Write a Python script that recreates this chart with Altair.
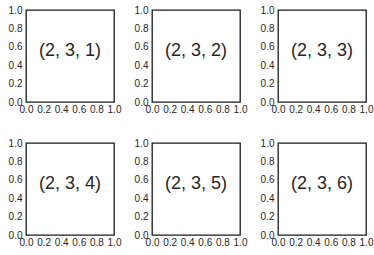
import altair as alt
import pandas as pd

labels = ["(2, 3, 1)", "(2, 3, 2)", "(2, 3, 3)", "(2, 3, 4)", "(2, 3, 5)", "(2, 3, 6)"]
tick_values = [0.0, 0.2, 0.4, 0.6, 0.8, 1.0]
text_x = [0.5]
text_y = [0.5]

FONT = "Liberation Sans"
TXT = "#262626"

def panel(label):
    df = pd.DataFrame({"x": text_x, "y": text_y, "label": [label]})
    ax = dict(values=tick_values, format=".1f", title=None, grid=False, ticks=False,
              domain=False, labelFlush=False, labelFontSize=10, labelFont=FONT,
              labelColor=TXT, labelOverlap=False)
    return alt.Chart(df).mark_text(
        fontSize=18, font=FONT, color=TXT, baseline="alphabetic", align="center"
    ).encode(
        x=alt.X("x:Q", scale=alt.Scale(domain=[0, 1], nice=False),
                axis=alt.Axis(labelPadding=2, **ax)),
        y=alt.Y("y:Q", scale=alt.Scale(domain=[0, 1], nice=False),
                axis=alt.Axis(labelPadding=4, **ax)),
        text="label:N",
    ).properties(width=88, height=92)

row1 = alt.hconcat(*[panel(l) for l in labels[:3]], spacing=11)
row2 = alt.hconcat(*[panel(l) for l in labels[3:]], spacing=11)
chart = alt.vconcat(row1, row2, spacing=22).properties(
    padding={"left": 7, "top": 4, "right": 0, "bottom": 0},
    background="white",
).configure_view(stroke="#1a1a1a", strokeWidth=1.3)

chart.save("out.html", embed_options={"renderer": "svg", "actions": False})
